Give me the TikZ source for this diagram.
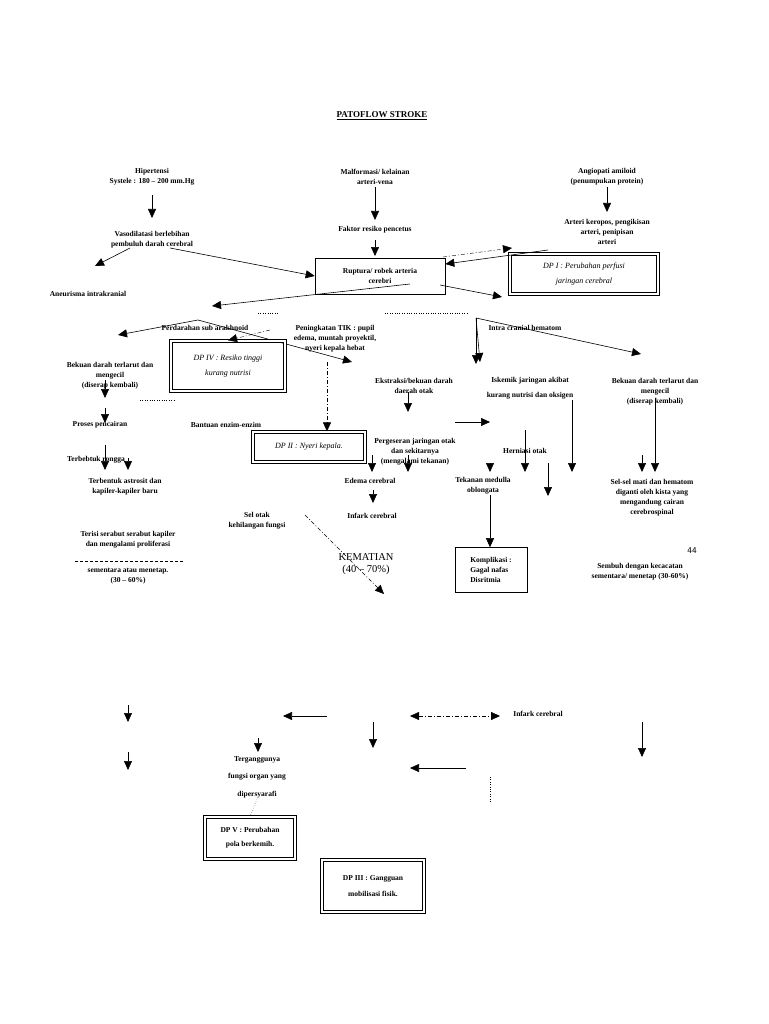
\documentclass[tikz,border=0pt]{standalone}
\usepackage{fontspec}
\setmainfont{Liberation Serif}
\usetikzlibrary{arrows.meta}
\begin{document}
\begin{tikzpicture}[x=1pt,y=-1pt,
  t/.style={font=\fontsize{7.5}{10}\selectfont\bfseries,align=center,inner sep=1pt},
  it/.style={font=\fontsize{8}{15}\selectfont\itshape,align=center},
  ar/.style={-{Triangle[length=9pt,width=8pt]},line width=0.6pt},
  dd/.style={ar,dash pattern=on 4pt off 2pt on 1pt off 2pt,line width=0.4pt},
  dbox/.style={draw,line width=1.3pt,double,double distance=2.2pt,minimum width=#1},
  sbox/.style={draw,line width=0.6pt}]
\useasboundingbox (0,0) rectangle (768,1024);
\fill[white] (0,0) rectangle (768,1024);
\node[font=\fontsize{9}{11}\selectfont\bfseries] (title) at (382,116) {\underline{PATOFLOW STROKE}};
% top row
\node[t] (hip) at (152,177) {Hipertensi\\Systele : 180 -- 200 mm.Hg};
\node[t] (vaso) at (152,240) {Vasodilatasi berlebihan\\pembuluh darah cerebral};
\node[t] (aneu) at (88,294) {Aneurisma intrakranial};
\node[t] (malf) at (375,177) {Malformasi/ kelainan\\arteri-vena};
\node[t] (fakt) at (375,230) {Faktor resiko pencetus};
\node[t,sbox,minimum width=130,minimum height=36] (rupt) at (380,276) {Ruptura/ robek arteria\\cerebri};
\node[t] (angio) at (607,177) {Angiopati amiloid\\(penumpukan protein)};
\node[t] (arteri) at (607,232) {Arteri keropos, pengikisan\\arteri, penipisan\\arteri};
\node[it,dbox=148,minimum height=40] (dp1) at (584,274) {DP I : Perubahan perfusi\\jaringan cerebral};
\draw[ar] (152,195) -- (152,218);
\draw[ar] (375,187) -- (375,220);
\draw[ar] (375,240) -- (375,256);
\draw[ar] (607,187) -- (607,212);
\coordinate (a1) at (95,266);
\draw[ar] (130,248) -- (a1);
\draw[ar] (170,248) -- (rupt.west);
\draw[ar] (548,250) -- (rupt.east |- 0,264);
\coordinate (a2) at (512,248);
\draw[dd] (443,257) -- (a2);
\coordinate (a3) at (502,297);
\draw[ar] (440,285) -- (a3);
\coordinate (a4) at (212,306);
\draw[ar] (410,284) -- (a4);
\draw[dotted] (258,313) -- (278,313);
\draw[dotted] (385,313) -- (467,313);
% second level left
\node[t] (perd) at (205,328) {Perdarahan sub arakhnoid};
\coordinate (a5) at (118,335);
\coordinate (a6) at (352,362);
\draw[ar] (198,320) -- (a5);
\draw[ar] (198,320) -- (a6);
\node[it,dbox=114,minimum height=50] (dp4) at (228,366) {DP IV : Resiko tinggi\\kurang nutrisi};
\draw[dd] (270,330) -- (dp4.north);
\node[t] (tik) at (335,339) {Peningkatan TIK : pupil\\edema, muntah proyektil,\\nyeri kepala hebat};
\node[it,dbox=112,minimum height=30] (dp2) at (309,447) {DP II : Nyeri kepala.};
\coordinate (tik2) at (327,362);
\draw[dd] (tik2) -- (tik2 |- dp2.north);
\node[t] (bek1) at (110,376) {Bekuan darah terlarut dan\\mengecil\\(diserap kembali)};
\draw[ar] (105,380) -- (105,398);
\draw[dotted] (140,400) -- (175,400);
\node[t] (pros) at (100,425) {Proses pencairan};
\draw[ar] (105,408) -- (105,423);
\node[t] (bant) at (226,425) {Bantuan enzim-enzim};
\node[t] (rong) at (96,460) {Terbebtuk rongga};
\draw[ar] (105,445) -- (105,470);
\draw[ar] (128,458) -- (128,470);
\node[t] (astro) at (125,487) {Terbentuk astrosit dan\\kapiler-kapiler baru};
\node[t] (teri) at (128,540) {Terisi serabut serabut kapiler\\dan mengalami proliferasi};
\draw[densely dashed,line width=0.5pt] (75,561) -- (183,561);
\node[t] (sem1) at (128,576) {sementara atau menetap.\\(30 -- 60\%)};
\node[t] (sel) at (257,521) {Sel otak\\kehilangan fungsi};
\node[font=\fontsize{10.5}{12}\selectfont,align=center] (kem) at (366,564) {KEMATIAN\\(40 -- 70\%)};
\coordinate (a7) at (384,594);
\draw[dd] (305,515) -- (a7);
% right side
\node[t] (intra) at (525,328) {Intra cranial hematom};
\coordinate (ic) at (476,318);
\coordinate (a8) at (480,362);
\coordinate (a9) at (525,364);
\coordinate (a10) at (641,354);
\draw[ar] (ic) -- (a8);
\draw[ar] (ic) -- (ic |- a9);
\draw[ar] (ic) -- (a10);
\node[t] (eks) at (414,386) {Ekstraksi/bekuan darah\\daerah otak};
\draw[ar] (408,392) -- (408,412);
\node[t] (isk) at (530,381) {Iskemik jaringan akibat};
\node[t] (isk2) at (530,396) {kurang nutrisi dan oksigen};
\node[t] (bek2) at (655,392) {Bekuan darah terlarut dan\\mengecil\\(diserap kembali)};
\coordinate (a11) at (490,422);
\draw[ar] (455,422) -- (a11);
\node[t] (perg) at (415,452) {Pergeseran jaringan otak\\dan sekitarnya\\(mengalami tekanan)};
\draw[ar] (372,455) -- (372,472);
\draw[ar] (408,455) -- (408,472);
\node[t] (edema) at (370,481) {Edema cerebral};
\draw[ar] (373,490) -- (373,503);
\node[t] (inf1) at (372,516) {Infark cerebral};
\node[t] (hern) at (525,451) {Herniasi otak};
\draw[ar] (525,430) -- (525,472);
\draw[ar] (490,463) -- (490,472);
\draw[ar] (572,400) -- (572,472);
\draw[ar] (548,463) -- (548,496);
\node[t] (tek) at (483,486) {Tekanan medulla\\oblongata};
\node[t,sbox,align=left,minimum width=72,minimum height=45] (komp) at (491,570) {Komplikasi :\\Gagal nafas\\Disritmia};
\draw[ar,line width=0.5pt] (490,495) -- (komp.north -| 490,0);
\draw[ar] (642,455) -- (642,472);
\draw[ar] (655,398) -- (655,472);
\node[t] (selsel) at (652,498) {Sel-sel mati dan hematom\\diganti oleh kista yang\\mengandung cairan\\cerebrospinal};
\node[font=\fontsize{9}{11}\selectfont\sffamily] (n44) at (692,551) {44};
\node[t] (semb) at (640,572) {Sembuh dengan kecacatan\\sementara/ menetap (30-60\%)};
% bottom
\draw[ar] (128,705) -- (128,722);
\draw[ar] (128,752) -- (128,770);
\coordinate (a12) at (283,716);
\draw[ar] (327,716) -- (a12);
\draw[ar] (373,722) -- (373,748);
\coordinate (b1) at (410,716); \coordinate (b2) at (500,716);
\draw[dd,{Triangle[length=9pt,width=8pt]}-{Triangle[length=9pt,width=8pt]}] (b1) -- (b2);
\node[t] (inf2) at (538,714) {Infark cerebral};
\draw[ar] (642,722) -- (642,757);
\draw[ar] (258,738) -- (258,752);
\node[t,font=\fontsize{7.5}{17.5}\selectfont\bfseries] (terg) at (257,777) {Terganggunya\\fungsi organ yang\\dipersyarafi};
\coordinate (a13) at (410,768);
\draw[ar] (466,768) -- (a13);
\draw[dotted] (490,777) -- (490,802);
\node[t,dbox=90,minimum height=42,font=\fontsize{7.5}{14}\selectfont\bfseries] (dp5) at (250,838) {DP V : Perubahan\\pola berkemih.};
\draw[dotted] (terg.south) -- (dp5.north);
\node[t,dbox=102,minimum height=52,font=\fontsize{7.5}{16}\selectfont\bfseries] (dp3) at (373,886) {DP III : Gangguan\\mobilisasi fisik.};
\end{tikzpicture}
\end{document}
